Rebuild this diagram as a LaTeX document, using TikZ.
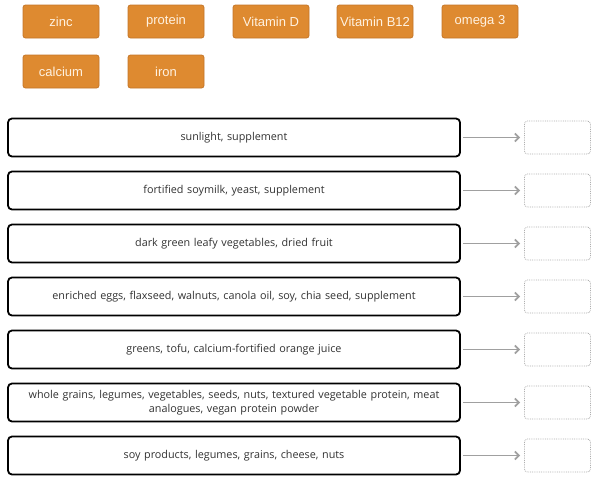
\documentclass[tikz,border=0pt]{standalone}
\usepackage{fontspec}
\setmainfont{Open Sans}
\newfontfamily\tagfont{Liberation Sans}
\usetikzlibrary{arrows.meta,calc}
\definecolor{tagfill}{RGB}{222,138,48}
\definecolor{tagdraw}{RGB}{196,118,40}
\definecolor{tagtext}{RGB}{255,242,225}
\definecolor{arrowgray}{RGB}{160,160,160}
\definecolor{slotgray}{RGB}{175,175,175}
\definecolor{txt}{RGB}{50,50,50}
\begin{document}
\begin{tikzpicture}[x=1pt,y=-1pt,
  tag/.style={draw=tagdraw,fill=tagfill,rounded corners=2.5pt,line width=0.8pt,
    minimum width=76pt,minimum height=33pt,inner sep=0pt,anchor=north west,outer sep=0pt,
    text=tagtext,font=\tagfont\fontsize{13}{15}\selectfont},
  food/.style={draw=black,line width=1.8pt,rounded corners=4pt,outer sep=0pt,
    minimum width=452pt,minimum height=38pt,inner sep=2pt,anchor=north west,
    text=txt,font=\fontsize{10.8}{14}\selectfont,align=center,text width=440pt},
  slot/.style={draw=slotgray,densely dotted,line width=0.8pt,rounded corners=3pt,
    minimum width=66pt,minimum height=33pt,inner sep=0pt,anchor=west},
  conn/.style={draw=arrowgray,line width=1.8pt,-{Straight Barb[length=4pt,width=8pt,line width=1.6pt]}}
]
\useasboundingbox (0,0) rectangle (598,479);
\fill[white] (0,0) rectangle (598,479);
\node[tag] (zinc) at (23,5) {zinc};
\node[tag] (protein) at (128,5) {protein};
\node[tag] (vitd) at (233,5) {Vitamin D};
\node[tag] (vitb) at (337,5) {Vitamin B12};
\node[tag] (omega) at (442,5) {omega 3};
\node[tag] (calcium) at (23,55) {calcium};
\node[tag] (iron) at (128,55) {iron};

\node[food] (f1) at (8,118.5) {sunlight, supplement};
\node[food] (f2) at (8,171.5) {fortified soymilk, yeast, supplement};
\node[food] (f3) at (8,224.5) {dark green leafy vegetables, dried fruit};
\node[food] (f4) at (8,277.5) {enriched eggs, flaxseed, walnuts, canola oil, soy, chia seed, supplement};
\node[food] (f5) at (8,330.5) {greens, tofu, calcium-fortified orange juice};
\node[food] (f6) at (8,383.5) {whole grains, legumes, vegetables, seeds, nuts, textured vegetable protein, meat\\analogues, vegan protein powder};
\node[food] (f7) at (8,436.5) {soy products, legumes, grains, cheese, nuts};

\foreach \i in {1,...,7}{
  \node[slot] (s\i) at ($(f\i.east)+(64,0)$) {};
  \draw[conn] ([xshift=3pt]f\i.east) -- ([xshift=-4pt]s\i.west);
}
\end{tikzpicture}
\end{document}
